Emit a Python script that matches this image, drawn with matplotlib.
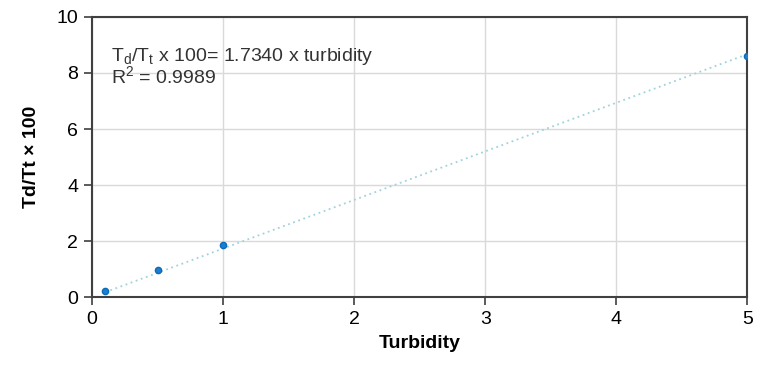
import numpy as np
import matplotlib.pyplot as plt

plt.rcParams['font.family'] = ['Liberation Sans', 'DejaVu Sans']

turbidity = [0.1, 0.5, 1.0, 5.0]
ratio = [0.22, 0.97, 1.87, 8.62]
slope = 1.7340
r2 = 0.9989

fig = plt.figure(figsize=(7.68, 3.77), dpi=100)
ax = fig.add_axes([0.12, 0.212, 0.853, 0.743])

# trendline through origin
xt = np.array([turbidity[0], turbidity[-1]])
ax.plot(xt, slope * xt, linestyle=(0, (1, 2)), color='#9fd3dc', lw=1.3, zorder=2)
ax.scatter(turbidity, ratio, s=20, color='#1b7fd0', edgecolor='#0d6ab8', zorder=3)

ax.set_xlim(0, 5)
ax.set_ylim(0, 10)
ax.set_xticks(range(0, 6))
ax.set_yticks(range(0, 11, 2))
ax.grid(True, color='#d9d9d9', lw=1)
ax.set_axisbelow(True)
for s in ax.spines.values():
    s.set_color('#404040')
    s.set_linewidth(1.5)
ax.tick_params(direction='out', length=6, width=1.2, color='#404040', labelsize=14, pad=4)

ax.set_xlabel('Turbidity', fontsize=14, fontweight='bold', labelpad=5)
ax.set_ylabel('Td/Tt × 100', fontsize=14, fontweight='bold', labelpad=12)

ax.text(0.14, 8.6, r'T$_\mathregular{d}$/T$_\mathregular{t}$ x 100= %.4f x turbidity' % slope,
        fontsize=14, color='#333333', va='center')
ax.text(0.14, 7.85, r'R$^\mathregular{2}$ = %.4f' % r2, fontsize=14, color='#333333', va='center')

fig.savefig('out.png', dpi=100)
